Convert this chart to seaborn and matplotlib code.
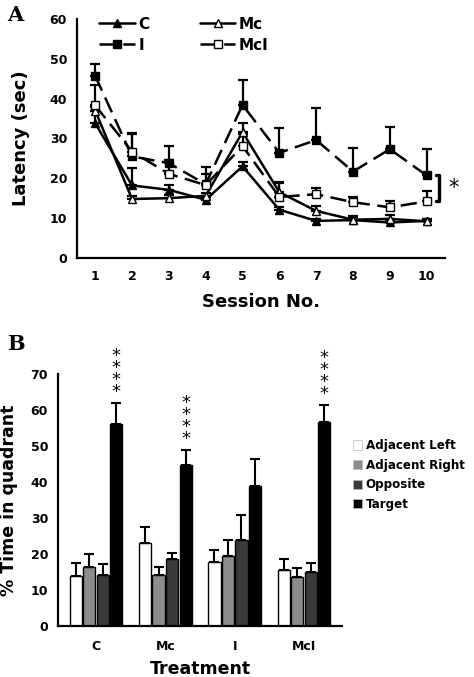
import numpy as np
import pandas as pd
import matplotlib
matplotlib.use("Agg")
import matplotlib.pyplot as plt
import seaborn as sns

# ---------------- data ----------------
sessions = [1, 2, 3, 4, 5, 6, 7, 8, 9, 10]
lat_C = [33.8, 18.2, 17.1, 14.6, 23.0, 12.1, 9.3, 9.5, 8.9, 9.3]
err_C = [3.0, 4.4, 1.2, 0.8, 1.0, 0.6, 0.6, 0.7, 0.6, 0.6]
lat_Mc = [37.0, 14.8, 15.0, 15.6, 31.6, 16.5, 11.8, 9.6, 9.8, 9.2]
err_Mc = [1.0, 0.8, 0.8, 0.8, 2.4, 2.6, 1.2, 1.0, 0.9, 0.7]
lat_I = [45.7, 25.5, 23.8, 18.5, 38.4, 26.4, 29.6, 21.7, 27.3, 20.7]
err_I = [3.1, 5.8, 4.4, 4.3, 6.2, 6.3, 8.1, 5.8, 5.5, 6.6]
lat_McI = [38.3, 26.7, 21.1, 18.3, 28.1, 15.3, 16.0, 14.0, 12.7, 14.2]
err_McI = [5.2, 4.5, 3.5, 2.8, 3.0, 3.5, 1.5, 1.2, 1.6, 2.6]

treatments = ["C", "Mc", "I", "McI"]
quadrants = ["Adjacent Left", "Adjacent Right", "Opposite", "Target"]
adj_left = [14.0, 23.0, 17.9, 15.6]
adj_left_err = [3.5, 4.4, 3.3, 3.0]
adj_right = [16.5, 14.1, 19.5, 13.6]
adj_right_err = [3.6, 2.2, 4.5, 2.6]
opposite = [14.3, 18.6, 24.0, 14.9]
opposite_err = [3.0, 1.8, 6.8, 2.6]
target = [56.0, 44.8, 39.0, 56.5]
target_err = [5.8, 4.1, 7.3, 4.9]
target_sig = ["****", "****", "", "****"]

# ---------------- figure ----------------
sns.set_style("white")
plt.rcParams["font.family"] = ["DejaVu Sans"]
plt.rcParams["font.weight"] = "bold"
plt.rcParams["text.color"] = "black"
plt.rcParams["axes.labelcolor"] = "black"
plt.rcParams["xtick.color"] = "black"
plt.rcParams["ytick.color"] = "black"

fig = plt.figure(figsize=(4.74, 6.77), dpi=100)

# ===== Panel A =====
ax1 = fig.add_axes([0.162, 0.619, 0.777, 0.353])
dash = (0, (6.5, 3))
series = [
    ("C", lat_C, err_C, "^", "black", "-"),
    ("I", lat_I, err_I, "s", "black", dash),
    ("Mc", lat_Mc, err_Mc, "^", "white", "-"),
    ("McI", lat_McI, err_McI, "s", "white", dash),
]
for name, vals, errs, mk, mfc, ls in series:
    ax1.errorbar(sessions, vals, yerr=[np.zeros(len(errs)), errs], fmt="none",
                 ecolor="black", elinewidth=1.6, capsize=3.5, capthick=1.6, zorder=2)
    sns.lineplot(x=sessions, y=vals, ax=ax1, color="black", linestyle=ls,
                 linewidth=1.8, marker=mk, markersize=5.5, markerfacecolor=mfc,
                 markeredgecolor="black", markeredgewidth=1.0, label=name, zorder=3)

ax1.set_xlim(0.5, 10.5)
ax1.set_ylim(0, 60)
ax1.set_yticks(np.arange(0, 61, 10))
ax1.set_xticks(sessions)
ax1.set_xticks(np.arange(0.5, 10.6, 1), minor=True)
ax1.tick_params(axis="x", which="major", length=0, labelsize=9, pad=9)
ax1.tick_params(axis="x", which="minor", length=4, width=1.6, direction="out")
ax1.tick_params(axis="y", length=4, width=1.6, direction="out", labelsize=9, pad=3)
for lbl in ax1.get_xticklabels() + ax1.get_yticklabels():
    lbl.set_fontweight("bold")
ax1.set_xlabel("Session No.", fontsize=13, fontweight="bold", labelpad=7)
ax1.set_ylabel("Latency (sec)", fontsize=13, fontweight="bold", labelpad=14)
for side in ["top", "right"]:
    ax1.spines[side].set_visible(False)
for side in ["left", "bottom"]:
    ax1.spines[side].set_linewidth(1.6)
    ax1.spines[side].set_color("black")

leg = ax1.legend(loc="upper left", bbox_to_anchor=(0.045, 1.035), ncol=2,
                 frameon=False, fontsize=11, handlelength=2.3, handletextpad=0.25,
                 columnspacing=3.3, labelspacing=0.4, borderaxespad=0)
for t in leg.get_texts():
    t.set_fontweight("bold")

# significance bracket between I and McI at last session
y_hi, y_lo = lat_I[-1], lat_McI[-1]
bx = sessions[-1] + 0.33
ax1.plot([bx - 0.08, bx, bx, bx - 0.08], [y_hi, y_hi, y_lo, y_lo], color="black",
         linewidth=2.4, clip_on=False)
ax1.text(bx + 0.25, (y_hi + y_lo) / 2, "*", fontsize=15, fontweight="normal",
         ha="left", va="center", clip_on=False)

# ===== Panel B =====
ax2 = fig.add_axes([0.122, 0.075, 0.600, 0.373])
rows = []
for qname, vals in zip(quadrants, [adj_left, adj_right, opposite, target]):
    for t, v in zip(treatments, vals):
        rows.append({"Treatment": t, "Quadrant": qname, "Value": v})
df_bar = pd.DataFrame(rows)
palette = {"Adjacent Left": "white", "Adjacent Right": "#8c8c8c",
           "Opposite": "#3a3a3a", "Target": "black"}
sns.barplot(data=df_bar, x="Treatment", y="Value", hue="Quadrant", order=treatments,
            hue_order=quadrants, palette=palette, edgecolor="black", linewidth=1.0,
            width=0.78, gap=0.1, errorbar=None, ax=ax2)
bar_containers = list(ax2.containers)

for container, errs in zip(bar_containers,
                           [adj_left_err, adj_right_err, opposite_err, target_err]):
    for bar, e in zip(container, errs):
        xc = bar.get_x() + bar.get_width() / 2
        h = bar.get_height()
        ax2.errorbar([xc], [h], yerr=[[0], [e]], fmt="none", ecolor="black",
                     elinewidth=1.5, capsize=3.5, capthick=1.5, zorder=3)

for bar, e, sig in zip(bar_containers[-1], target_err, target_sig):
    if sig:
        xc = bar.get_x() + bar.get_width() / 2
        ax2.text(xc, bar.get_height() + e + 0.5, "\n".join(list(sig)), ha="center",
                 va="bottom", fontsize=13, fontweight="normal", linespacing=0.58)

ax2.set_ylim(0, 70)
ax2.set_yticks(np.arange(0, 71, 10))
ax2.set_xlim(-0.55, 3.55)
ax2.tick_params(axis="x", length=0, labelsize=9, pad=10)
ax2.tick_params(axis="y", length=4, width=1.6, direction="out", labelsize=9, pad=3)
for lbl in ax2.get_xticklabels() + ax2.get_yticklabels():
    lbl.set_fontweight("bold")
ax2.set_xlabel("Treatment", fontsize=12.5, fontweight="bold", labelpad=5)
ax2.set_ylabel("% Time in quadrant", fontsize=12.5, fontweight="bold", labelpad=9)
for side in ["top", "right"]:
    ax2.spines[side].set_visible(False)
for side in ["left", "bottom"]:
    ax2.spines[side].set_linewidth(1.6)
    ax2.spines[side].set_color("black")

leg2 = ax2.legend(loc="upper left", bbox_to_anchor=(1.02, 0.76), frameon=False,
                  fontsize=8.6, handlelength=0.8, handleheight=0.8, handletextpad=0.3,
                  labelspacing=0.55, borderaxespad=0)
for t in leg2.get_texts():
    t.set_fontweight("bold")
for h in leg2.legend_handles:
    h.set_edgecolor("#bbbbbb")
    h.set_linewidth(0.5)

# panel letters
fig.text(0.015, 0.993, "A", fontsize=15, fontweight="bold", family="DejaVu Serif",
         ha="left", va="top")
fig.text(0.015, 0.507, "B", fontsize=15, fontweight="bold", family="DejaVu Serif",
         ha="left", va="top")

fig.savefig("out.png", dpi=100)
